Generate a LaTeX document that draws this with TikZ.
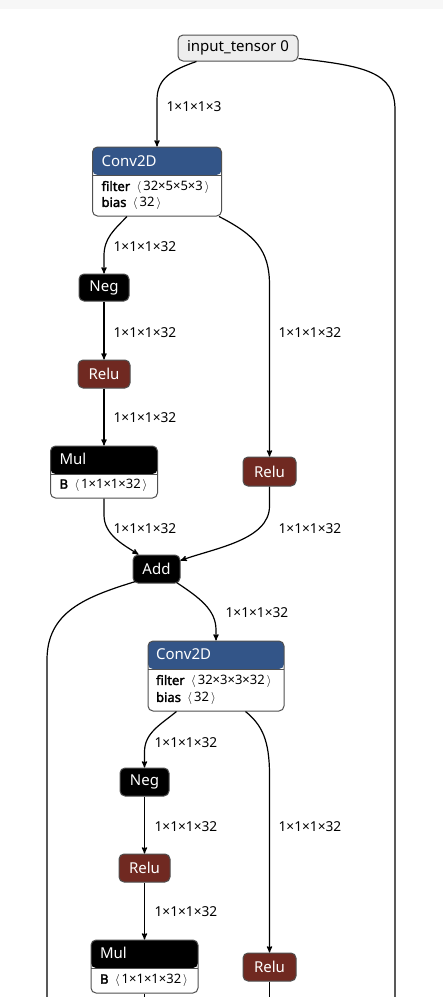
\documentclass[tikz,border=0pt]{standalone}
\usepackage{fontspec}
\setmainfont{Noto Sans}[AutoFakeBold=2.2]
\usepackage{tikz}
\usetikzlibrary{arrows}
\definecolor{convblue}{RGB}{51,85,136}
\definecolor{relured}{RGB}{112,41,33}
\definecolor{boxgray}{RGB}{80,80,80}
\definecolor{inputgray}{RGB}{238,238,238}
\definecolor{topbar}{RGB}{247,247,247}
\tikzset{
	main node/.style={rounded corners=5pt,draw=boxgray,line width=1pt,inner sep=0pt,minimum height=28pt,text=white,font=\fontsize{15}{17}\selectfont},
	black node/.style={main node,fill=black},
	relu node/.style={main node,fill=relured,minimum width=52pt},
	input node/.style={main node,fill=inputgray,text=black,minimum width=120pt,minimum height=26pt},
	box node/.style 2 args={main node,fill=white,minimum width=#1,minimum height=#2},
	head/.style={path picture={
		\fill[#1] (path picture bounding box.north west) rectangle ([yshift=-28pt]path picture bounding box.north east);
		\draw[-,boxgray,line width=0.6pt] ([yshift=-28pt]path picture bounding box.north west) -- ([yshift=-28pt]path picture bounding box.north east);}},
	head text/.style={text=white,anchor=west,inner sep=0pt,font=\fontsize{15}{17}\selectfont},
	body text/.style={text=black,anchor=west,inner sep=0pt,font=\fontsize{13}{15}\selectfont},
	edge label/.style={anchor=west,inner sep=0pt,text=black,font=\fontsize{13.7}{16}\selectfont}
}

\begin{document}
\begin{tikzpicture}[->,>=stealth',x=1pt,y=1pt,line width=1.2pt]
	\useasboundingbox (0,0) rectangle (443,-997);
	\fill[topbar] (0,0) rectangle (443,-9);
	% first block
	\node [input node] (1) at (238,-48) {input\_tensor 0};
	\node [box node={129pt}{69pt},head=convblue,
		label={[head text,xshift=9pt,yshift=-15pt]north west:Conv2D},
		label={[body text,xshift=9pt,yshift=-41pt]north west:{\textbf{filter}\enspace$\langle\,$32×5×5×3$\,\rangle$}},
		label={[body text,xshift=9pt,yshift=-57pt]north west:{\textbf{bias}\enspace$\langle\,$32$\,\rangle$}}] (2) at (157,-181.5) {};
	\node [black node,minimum width=50pt,minimum height=27pt] (3) at (104,-287.5) {Neg};
	\node [relu node] (4) at (104,-374) {Relu};
	\node [box node={107pt}{52pt},head=black,
		label={[head text,xshift=9pt,yshift=-13pt]north west:Mul},
		label={[body text,xshift=9pt,yshift=-40pt]north west:{\textbf{B}\enspace$\langle\,$1×1×1×32$\,\rangle$}}] (5) at (104,-472) {};
	\node [relu node,minimum width=53pt,minimum height=29pt] (6) at (269.5,-471.5) {Relu};
	\node [black node,minimum width=47pt] (7) at (156.5,-569) {Add};
	% second block
	\node [box node={136pt}{70pt},head=convblue,
		label={[head text,xshift=8pt,yshift=-14pt]north west:Conv2D},
		label={[body text,xshift=8pt,yshift=-41pt]north west:{\textbf{filter}\enspace$\langle\,$32×3×3×32$\,\rangle$}},
		label={[body text,xshift=8pt,yshift=-58pt]north west:{\textbf{bias}\enspace$\langle\,$32$\,\rangle$}}] (8) at (216,-676) {};
	\node [black node,minimum width=49pt] (9) at (144.5,-782) {Neg};
	\node [relu node,minimum width=51pt] (10) at (144.5,-868) {Relu};
	\node [box node={107pt}{53pt},head=black,
		label={[head text,xshift=9pt,yshift=-13pt]north west:Mul},
		label={[body text,xshift=9pt,yshift=-41pt]north west:{\textbf{B}\enspace$\langle\,$1×1×1×32$\,\rangle$}}] (11) at (144.5,-966.5) {};
	\node [relu node,minimum width=53pt] (12) at (269.5,-967) {Relu};
	\coordinate (13) at (47,-997);
	\coordinate (14) at (395,-997);
	\coordinate (15) at (144.5,-997);
	\coordinate (16) at (269.5,-997);
	% edges
	\draw ([xshift=19pt]1.south west) .. controls (172,-70) and (157,-78) .. (157,-100) -- (2.north);
	\draw[-] ([yshift=3pt]1.south east) .. controls (365,-66) and (395,-72) .. (395,-110) -- (14);
	\draw ([xshift=35pt]2.south west) .. controls (114,-230) and (104,-238) .. (104,-256) -- (3.north);
	\draw ([xshift=-3pt]2.south east) .. controls (255,-235) and (269.5,-250) .. (269.5,-285) -- (6.north);
	\draw (3) -- (4);
	\draw (4) -- (5);
	\draw (5.south) -- (104,-515) .. controls (104,-535) and (124,-545) .. ([xshift=6pt]7.north west);
	\draw (6.south) -- (269.5,-506) .. controls (269.5,-540) and (215,-548) .. ([yshift=-6pt]7.north east);
	\draw ([xshift=-4pt,yshift=1pt]7.south east) .. controls (200,-598) and (216,-610) .. (216,-630) -- (8.north);
	\draw[-] ([xshift=3pt,yshift=2pt]7.south west) .. controls (85,-597) and (47,-612) .. (47,-660) -- (13);
	\draw ([xshift=29pt]8.south west) .. controls (160,-725) and (144.5,-733) .. (144.5,-752) -- (9.north);
	\draw ([xshift=-39pt]8.south east) .. controls (262,-725) and (269.5,-740) .. (269.5,-775) -- (12.north);
	\draw (9) -- (10);
	\draw (10) -- (11);
	\draw[-] (11.south) -- (15);
	\draw[-] (12.south) -- (16);
	% shapes
	\node [edge label] (l1) at (166,-107) {1×1×1×3};
	\node [edge label] (l2) at (113,-247) {1×1×1×32};
	\node [edge label] (l3) at (113,-333) {1×1×1×32};
	\node [edge label] (l4) at (113,-418) {1×1×1×32};
	\node [edge label] (l5) at (278,-333) {1×1×1×32};
	\node [edge label] (l6) at (113,-529) {1×1×1×32};
	\node [edge label] (l7) at (278,-529) {1×1×1×32};
	\node [edge label] (l8) at (225,-613) {1×1×1×32};
	\node [edge label] (l9) at (154,-743) {1×1×1×32};
	\node [edge label] (l10) at (154,-827) {1×1×1×32};
	\node [edge label] (l11) at (154,-912) {1×1×1×32};
	\node [edge label] (l12) at (278,-827) {1×1×1×32};
\end{tikzpicture}
\end{document}
